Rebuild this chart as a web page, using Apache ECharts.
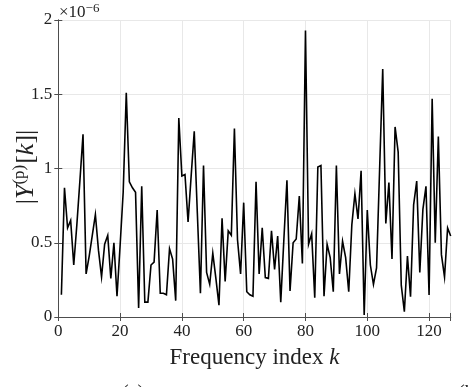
<!DOCTYPE html>
<html>
<head>
<meta charset="utf-8">
<script src="https://cdn.jsdelivr.net/npm/echarts@6/dist/echarts.min.js"></script>
<style>
html,body{margin:0;padding:0;background:#fff;}
#c{width:474px;height:387px;}
</style>
</head>
<body>
<div id="c"></div>
<script>
// Frequency index k
const kValues = [];
for (let k = 1; k <= 127; k++) kValues.push(k);
// |Y^(p)[k]| in units of 1e-6
const magnitudes = [
  0.15, 0.87, 0.60, 0.65, 0.35, 0.62, 0.92, 1.23, 0.29, 0.41,
  0.55, 0.69, 0.45, 0.27, 0.49, 0.55, 0.26, 0.50, 0.14, 0.48,
  0.84, 1.51, 0.91, 0.87, 0.84, 0.06, 0.88, 0.10, 0.10, 0.35,
  0.37, 0.72, 0.16, 0.16, 0.15, 0.46, 0.39, 0.11, 1.34, 0.95,
  0.96, 0.64, 0.95, 1.25, 0.70, 0.16, 1.02, 0.30, 0.22, 0.43,
  0.26, 0.08, 0.665, 0.24, 0.58, 0.55, 1.27, 0.52, 0.29, 0.77,
  0.17, 0.15, 0.14, 0.91, 0.29, 0.60, 0.265, 0.26, 0.58, 0.32,
  0.545, 0.10, 0.52, 0.92, 0.175, 0.50, 0.525, 0.815, 0.36, 1.93,
  0.49, 0.56, 0.13, 1.01, 1.02, 0.14, 0.49, 0.40, 0.17, 1.02,
  0.29, 0.51, 0.40, 0.17, 0.62, 0.83, 0.66, 0.985, 0.013, 0.72,
  0.35, 0.22, 0.33, 1.00, 1.67, 0.63, 0.905, 0.39, 1.28, 1.11,
  0.215, 0.036, 0.41, 0.137, 0.755, 0.915, 0.30, 0.725, 0.88, 0.148,
  1.47, 0.50, 1.215, 0.42, 0.27, 0.60, 0.545
];
const xTicks = [0, 20, 40, 60, 80, 100, 120];
const yTicks = [0, 0.5, 1, 1.5, 2];

const serif = '"Liberation Serif", "DejaVu Serif", serif';
const axisColor = '#4d4d4d';
const gridColor = '#e8e8e8';
const textColor = '#222';

const chart = echarts.init(document.getElementById('c'), null, {renderer: 'canvas'});
const data = kValues.map((k, i) => [k, magnitudes[i]]);

const xBase = {
  type: 'value', min: 0, max: 127, interval: 20,
  axisLine: {show: true, lineStyle: {color: axisColor, width: 1}},
  axisTick: {show: true, inside: true, length: 4, lineStyle: {color: axisColor}},
};
const yBase = {
  type: 'value', min: 0, max: 2, interval: 0.5,
  axisLine: {show: true, lineStyle: {color: axisColor, width: 1}},
  axisTick: {show: true, inside: true, length: 4, lineStyle: {color: axisColor}},
};

chart.setOption({
  animation: false,
  backgroundColor: '#fff',
  grid: {left: 58.3, right: 23.3, top: 20, bottom: 70, show: false, containLabel: false, outerBoundsMode: 'none'},
  xAxis: [
    Object.assign({}, xBase, {
      position: 'bottom',
      splitLine: {show: true, lineStyle: {color: gridColor, width: 1}},
      axisLabel: {
        show: true, color: textColor, fontFamily: serif, fontSize: 17, margin: 6,
        formatter: v => xTicks.includes(v) ? String(v) : ''
      },
      name: 'Frequency index {i|k}',
      nameLocation: 'middle',
      nameGap: 29,
      nameTextStyle: {
        color: textColor, fontFamily: serif, fontSize: 23,
        rich: {i: {fontStyle: 'italic', fontFamily: serif, fontSize: 23, color: textColor}}
      }
    }),
    Object.assign({}, xBase, {
      position: 'top',
      splitLine: {show: false},
      axisLabel: {show: false}
    })
  ],
  yAxis: [
    Object.assign({}, yBase, {
      position: 'left',
      splitLine: {show: true, lineStyle: {color: gridColor, width: 1}},
      axisLabel: {
        show: true, color: textColor, fontFamily: serif, fontSize: 17, margin: 6,
        formatter: v => yTicks.includes(v) ? String(v) : ''
      }
    }),
    Object.assign({}, yBase, {
      position: 'right',
      splitLine: {show: false},
      axisLabel: {show: false}
    })
  ],
  graphic: [
    {
      type: 'text', x: 26, y: 167, rotation: Math.PI / 2,
      style: {
        text: '|{i|Y}{s|(p)}[{i|k}]|',
        fill: textColor, font: '26px ' + serif,
        align: 'center', verticalAlign: 'middle',
        rich: {
          i: {fontStyle: 'italic', fontFamily: serif, fontSize: 26, fill: textColor},
          s: {fontFamily: serif, fontSize: 17, fill: textColor, padding: [0, 1, 12, 0]}
        }
      }
    },
    {
      type: 'text', left: 59, top: 2,
      style: {
        text: '×10{s|−6}', fill: textColor,
        font: '17px ' + serif,
        rich: {s: {fontSize: 13, fontFamily: serif, fill: textColor, padding: [0, 0, 9, 0]}}
      }
    },
    {
      type: 'text', left: 122, top: 384,
      style: {text: '(a)', fill: textColor, font: '20px ' + serif}
    },
    {
      type: 'text', left: 458, top: 384,
      style: {text: '(b)', fill: textColor, font: '20px ' + serif}
    }
  ],
  series: [{
    type: 'line',
    xAxisIndex: 0, yAxisIndex: 0,
    data: data,
    showSymbol: false,
    symbol: 'none',
    lineStyle: {color: '#000', width: 1.6, join: 'miter'},
    z: 5
  }]
});
</script>
</body>
</html>
